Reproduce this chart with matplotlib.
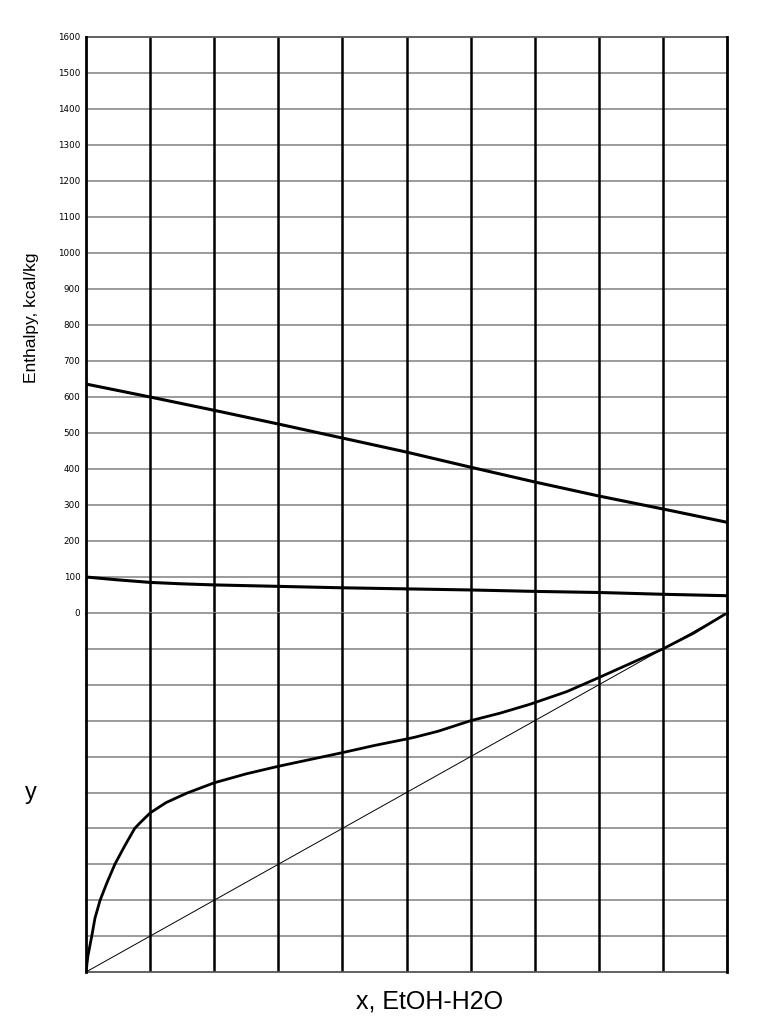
"""Enthalpy-composition + y-x diagram for ethanol-water."""

import matplotlib
matplotlib.use("Agg")
import matplotlib.pyplot as plt
import numpy as np

# saturated vapour enthalpy (kcal/kg)
x_vap = [0.0, 0.1, 0.2, 0.3, 0.4, 0.5, 0.6, 0.7, 0.8, 0.9, 1.0]
h_vap = [636, 600, 563, 525, 486, 447, 405, 364, 325, 289, 252]

# saturated liquid enthalpy (kcal/kg)
x_liq = [0.0, 0.05, 0.1, 0.15, 0.2, 0.3, 0.4, 0.5, 0.6, 0.7, 0.8, 0.9, 1.0]
h_liq = [100, 92, 85, 81, 78, 74, 70, 67, 64, 60, 57, 52, 48]

# equilibrium curve y vs x
x_eq = [0.0, 0.003, 0.009, 0.014, 0.022, 0.033, 0.045, 0.06, 0.076, 0.084,
        0.1, 0.125, 0.157, 0.2, 0.25, 0.3, 0.35, 0.4, 0.45, 0.5, 0.513,
        0.55, 0.6, 0.646, 0.693, 0.75, 0.8, 0.85, 0.9, 0.948, 1.0]
y_eq = [0.0, 0.045, 0.1, 0.15, 0.2, 0.25, 0.3, 0.35, 0.4, 0.415,
        0.443, 0.472, 0.498, 0.527, 0.552, 0.573, 0.592, 0.611, 0.631, 0.649, 0.654,
        0.671, 0.7, 0.721, 0.746, 0.781, 0.82, 0.86, 0.9, 0.944, 1.0]

h_ticks = list(range(0, 1700, 100))

fig = plt.figure(figsize=(7.68, 10.24), dpi=100)
left, right = 86 / 768, 727 / 768
top_ax = fig.add_axes([left, 1 - 613 / 1024, right - left, (613 - 37) / 1024])
bot_ax = fig.add_axes([left, 1 - 972 / 1024, right - left, (972 - 613) / 1024])

grid_grey = "#8a8a8a"
xs = np.arange(0, 1.01, 0.1)
for ax in (top_ax, bot_ax):
    ax.set_xlim(0, 1)
    ax.set_xticks(xs)
    ax.tick_params(length=0, labelbottom=False)
    for xv in xs[1:-1]:
        ax.axvline(xv, color="black", lw=1.8, zorder=1)
    for s in ("left", "right"):
        ax.spines[s].set_linewidth(2.0)
        ax.spines[s].set_zorder(4)
    ax.spines["top"].set_linewidth(1.3)
    ax.spines["top"].set_color("#555555")
    ax.spines["bottom"].set_linewidth(1.3)
    ax.spines["bottom"].set_color("#555555")

# enthalpy part
top_ax.set_ylim(0, 1600)
top_ax.set_yticks(h_ticks)
top_ax.set_yticklabels([str(v) for v in h_ticks], fontsize=6.3, family="DejaVu Sans")
top_ax.tick_params(axis="y", pad=4)
for hv in h_ticks[1:-1]:
    top_ax.axhline(hv, color=grid_grey, lw=1.2, zorder=0)
top_ax.spines["bottom"].set_visible(False)
top_ax.plot(x_vap, h_vap, color="black", lw=2.2, zorder=3)
top_ax.plot(x_liq, h_liq, color="black", lw=2.2, zorder=3)
top_ax.set_ylabel("Enthalpy, kcal/kg", fontsize=12.5, family="Liberation Sans")
top_ax.yaxis.set_label_coords(-0.073, 0.512)

# y-x part
bot_ax.set_ylim(0, 1)
bot_ax.set_yticks([])
bot_ax.spines["top"].set_visible(False)
for yv in np.arange(0.1, 1.05, 0.1):
    bot_ax.axhline(yv, color=grid_grey, lw=1.2, zorder=0, clip_on=False)
bot_ax.plot([0, 1], [0, 1], color="black", lw=0.7, zorder=2)
bot_ax.plot(x_eq, y_eq, color="black", lw=2.0, zorder=3)
bot_ax.set_ylabel("y", fontsize=17, family="Liberation Sans", rotation=0, labelpad=40,
                  va="center")

fig.text(430 / 768, 1 - 1001 / 1024, "x, EtOH-H2O", fontsize=18, family="Liberation Sans",
         ha="center", va="center")

fig.savefig("out.png", dpi=100)
